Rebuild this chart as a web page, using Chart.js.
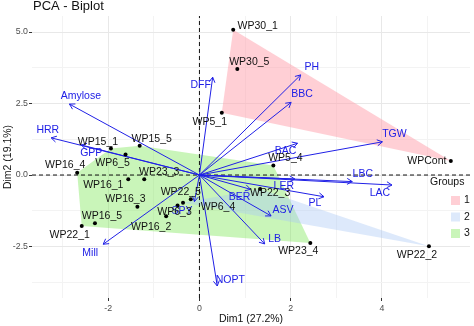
<!DOCTYPE html>
<html><head><meta charset="utf-8">
<script src="https://cdn.jsdelivr.net/npm/chart.js@4.4.0/dist/chart.umd.min.js"></script>
<style>html,body{margin:0;padding:0;background:#fff;}#wrap{width:474px;height:326px;}</style>
</head><body><div id="wrap"><canvas id="c" width="474" height="326"></canvas></div>
<script>
// ---- data ----
const indNames = ['WP30_1','WP30_5','WP5_1','WPCont','WP22_2','WP22_3','WP6_4','WP5_4','WP23_4','WP15_1','WP15_5','WP6_5','WP16_4','WP16_1','WP23_3','WP16_3','WP16_5','WP22_1','WP16_2','WP22_5','WP6_3'];
const indDim1  = [0.74, 0.83, 0.49, 5.51, 5.03, 1.33, -0.36, 1.62, 2.43, -1.94, -1.31, -1.62, -2.68, -1.56, -1.21, -1.36, -2.29, -2.58, -0.73, -0.19, -0.48];
const indDim2  = [5.08, 3.71, 2.18, 0.49, -2.49, -0.49, -0.97, 0.33, -2.38, 0.93, 1.02, 0.72, 0.08, -0.15, -0.15, -1.11, -1.69, -1.78, -1.44, -0.85, -1.07];
const indGroup = ['1','1','1','1','2','2','2','3','3','3','3','3','3','3','3','3','3','3','3','3','3'];

const varNames = ['DFF','Amylose','PH','BBC','TGW','BAC','LBC','LAC','LER','PL','BER','ASV','LB','NOPT','Mill','HRR','GPP','SPY'];
const varDim1  = [0.29, -2.85, 2.22, 2.01, 4.01, 2.15, 3.35, 4.22, 2.09, 2.73, 1.12, 1.57, 1.43, 0.39, -2.11, -3.25, -2.59, -0.11];
const varDim2  = [3.42, 2.48, 3.50, 2.54, 1.16, 1.11, -0.23, -0.35, -0.14, -0.76, -0.50, -1.43, -2.41, -3.88, -2.42, 1.30, 1.05, -0.93];

const groupKeys = ['1','2','3'];
const xTickValues = [-2, 0, 2, 4];
const xTickLabels = ['-2', '0', '2', '4'];
const xMinorValues = [-3, -1, 1, 3, 5];
const yTickValues = [-2.5, 0, 2.5, 5];
const yTickLabels = ['-2.5', '0.0', '2.5', '5.0'];
const yMinorValues = [-3.75, -1.25, 1.25, 3.75];

const titleText = 'PCA - Biplot';
const xTitle = 'Dim1 (27.2%)';
const yTitle = 'Dim2 (19.1%)';
const legendTitle = 'Groups';

// ---- styling / layout ----
const groupFill = ['rgba(255,160,172,0.5)', 'rgba(170,200,245,0.4)', 'rgba(120,230,80,0.4)'];
const VAR_COLOR = '#2020e6';
const FONT = '"Liberation Sans", Arial, sans-serif';
// label nudges in pixels (centre of text relative to point)
const indNudge = {WP30_1:[24.5,-4],WP30_5:[12,-7],WP5_1:[-12,9],WPCont:[-24,0],WP22_2:[-12,8.5],WP22_3:[10,4],WP6_4:[35,4],WP5_4:[12,-7.5],WP23_4:[-12,8.5],WP15_1:[-13,-6.5],WP15_5:[12,-6.7],WP6_5:[-13,9],WP16_4:[-12,-7.7],WP16_1:[-25,6],WP23_3:[15,-7.6],WP16_3:[-12,-7.4],WP16_5:[7,-7.3],WP22_1:[-12,8.7],WP16_2:[-15,11.4],WP22_5:[-10,-7.6],WP6_3:[-3,6]};
const varNudge = {DFF:[-12,8],Amylose:[11.5,-8],PH:[11,-8],BBC:[11,-8],TGW:[12,-8],BAC:[-12,8],LBC:[10.5,-7],LAC:[-12,8],LER:[-11,7],PL:[-9,6],BER:[-11,7.4],ASV:[12,-6],LB:[10,-5],NOPT:[13,-6],Mill:[-13,9],HRR:[-3.4,-7.7],GPP:[10,8],SPY:[-12.5,9.3]};

const X_MIN = -3.67, X_MAX = 5.93, Y_MIN = -4.3, Y_MAX = 5.56;

function hull(pts){
  pts = pts.slice().sort((a,b)=>a.x-b.x||a.y-b.y);
  const cross=(o,a,b)=>(a.x-o.x)*(b.y-o.y)-(a.y-o.y)*(b.x-o.x);
  const lower=[];for(const p of pts){while(lower.length>=2&&cross(lower[lower.length-2],lower[lower.length-1],p)<=0)lower.pop();lower.push(p);}
  const upper=[];for(let i=pts.length-1;i>=0;i--){const p=pts[i];while(upper.length>=2&&cross(upper[upper.length-2],upper[upper.length-1],p)<=0)upper.pop();upper.push(p);}
  upper.pop();lower.pop();return lower.concat(upper);
}

const datasets = [];
groupKeys.forEach((g,gi)=>{
  const pts = indNames.map((n,i)=>({x:indDim1[i],y:indDim2[i],g:indGroup[i]})).filter(p=>p.g===g);
  const h = hull(pts); h.push(h[0]);
  datasets.push({type:'line', data:h.map(p=>({x:p.x,y:p.y})), fill:'shape', backgroundColor:groupFill[gi],
    borderWidth:0, borderColor:'rgba(0,0,0,0)', pointRadius:0, tension:0, order:10});
});
datasets.push({type:'line', data:[{x:0,y:Y_MIN},{x:0,y:Y_MAX}], borderColor:'#111', borderWidth:1, borderDash:[4,3], pointRadius:0, fill:false, order:8});
datasets.push({type:'line', data:[{x:X_MIN,y:0},{x:X_MAX,y:0}], borderColor:'#111', borderWidth:1, borderDash:[4,3], pointRadius:0, fill:false, order:8});
varNames.forEach((v,i)=>{
  datasets.push({type:'line', data:[{x:0,y:0},{x:varDim1[i],y:varDim2[i]}], borderColor:VAR_COLOR, borderWidth:1, pointRadius:0, fill:false, order:5});
});
datasets.push({type:'line', showLine:false, data:indNames.map((n,i)=>({x:indDim1[i],y:indDim2[i]})), pointRadius:2, pointBackgroundColor:'#000', pointBorderWidth:0, borderColor:'#000', fill:false, order:1});

const overlay = {
  id:'overlay',
  afterDatasetsDraw(chart){
    const ctx = chart.ctx, xs = chart.scales.x, ys = chart.scales.y;
    const ox = xs.getPixelForValue(0), oy = ys.getPixelForValue(0);
    ctx.save();
    // arrowheads
    ctx.strokeStyle = VAR_COLOR; ctx.lineWidth = 1;
    varNames.forEach((v,i)=>{
      const tx = xs.getPixelForValue(varDim1[i]), ty = ys.getPixelForValue(varDim2[i]);
      const a = Math.atan2(ty-oy, tx-ox), L = 6, w = Math.PI/6;
      ctx.beginPath();
      ctx.moveTo(tx - L*Math.cos(a-w), ty - L*Math.sin(a-w));
      ctx.lineTo(tx, ty);
      ctx.lineTo(tx - L*Math.cos(a+w), ty - L*Math.sin(a+w));
      ctx.stroke();
    });
    // variable labels
    ctx.font = '10.5px ' + FONT; ctx.textAlign='center'; ctx.textBaseline='middle';
    ctx.fillStyle = VAR_COLOR;
    varNames.forEach((v,i)=>{
      const tx = xs.getPixelForValue(varDim1[i]), ty = ys.getPixelForValue(varDim2[i]);
      const n = varNudge[v]||[0,0];
      ctx.fillText(v, tx+n[0], ty+n[1]);
    });
    // individual labels
    ctx.fillStyle = '#111';
    indNames.forEach((v,i)=>{
      const px = xs.getPixelForValue(indDim1[i]), py = ys.getPixelForValue(indDim2[i]);
      const n = indNudge[v]||[0,0];
      ctx.fillText(v, px+n[0], py+n[1]);
    });
    ctx.restore();
  },
  afterDraw(chart){
    const ctx = chart.ctx, area = chart.chartArea;
    ctx.save();
    ctx.fillStyle = '#111'; ctx.textBaseline='middle';
    ctx.font = '13px ' + FONT; ctx.textAlign='left';
    ctx.fillText(titleText, area.left+1, 6);
    ctx.font = '10.5px ' + FONT; ctx.textAlign='center';
    ctx.fillText(xTitle, (area.left+area.right)/2, 319);
    ctx.save(); ctx.translate(8, (area.top+area.bottom)/2); ctx.rotate(-Math.PI/2);
    ctx.fillText(yTitle, 0, 0); ctx.restore();
    // legend
    ctx.textAlign='left';
    ctx.fillText(legendTitle, 430, 182);
    groupKeys.forEach((g,gi)=>{
      const y = 200.5 + gi*16.5;
      ctx.fillStyle = '#fff'; ctx.fillRect(451, y-4.5, 9, 9);
      ctx.fillStyle = groupFill[gi]; ctx.fillRect(451, y-4.5, 9, 9);
      ctx.fillStyle = '#111'; ctx.fillText(g, 464, y);
    });
    ctx.restore();
  }
};

const isMajor = (vals, v) => vals.some(t=>Math.abs(t-v)<1e-9);

new Chart(document.getElementById('c'), {
  type:'line',
  data:{datasets},
  options:{
    responsive:false, animation:false, devicePixelRatio:1,
    layout:{padding:{top:16,left:0,right:0,bottom:0}},
    plugins:{legend:{display:false}, tooltip:{enabled:false}, title:{display:false}},
    scales:{
      x:{type:'linear', min:X_MIN, max:X_MAX,
        afterBuildTicks:s=>{s.ticks = xMinorValues.concat(xTickValues).sort((a,b)=>a-b).map(v=>({value:v}));},
        afterFit:s=>{s.height=28;},
        ticks:{autoSkip:false, maxRotation:0, padding:2, color:'#4d4d4d', font:{size:8.8, family:FONT},
          callback:(v)=>{const k=xTickValues.findIndex(t=>Math.abs(t-v)<1e-9); return k>=0?xTickLabels[k]:'';}},
        grid:{color:c=>isMajor(xTickValues,c.tick.value)?'#e8e8e8':'#f3f3f3', tickColor:c=>isMajor(xTickValues,c.tick.value)?'#333':'rgba(0,0,0,0)', tickLength:3, lineWidth:1},
        border:{display:false}},
      y:{type:'linear', min:Y_MIN, max:Y_MAX,
        afterBuildTicks:s=>{s.ticks = yMinorValues.concat(yTickValues).sort((a,b)=>a-b).map(v=>({value:v}));},
        afterFit:s=>{s.width=32;},
        ticks:{autoSkip:false, padding:1, color:'#4d4d4d', font:{size:8.8, family:FONT},
          callback:(v)=>{const k=yTickValues.findIndex(t=>Math.abs(t-v)<1e-9); return k>=0?yTickLabels[k]:'';}},
        grid:{color:c=>isMajor(yTickValues,c.tick.value)?'#e8e8e8':'#f3f3f3', tickColor:c=>isMajor(yTickValues,c.tick.value)?'#333':'rgba(0,0,0,0)', tickLength:3, lineWidth:1},
        border:{display:false}}
    }
  },
  plugins:[overlay]
});
</script>
</body></html>
